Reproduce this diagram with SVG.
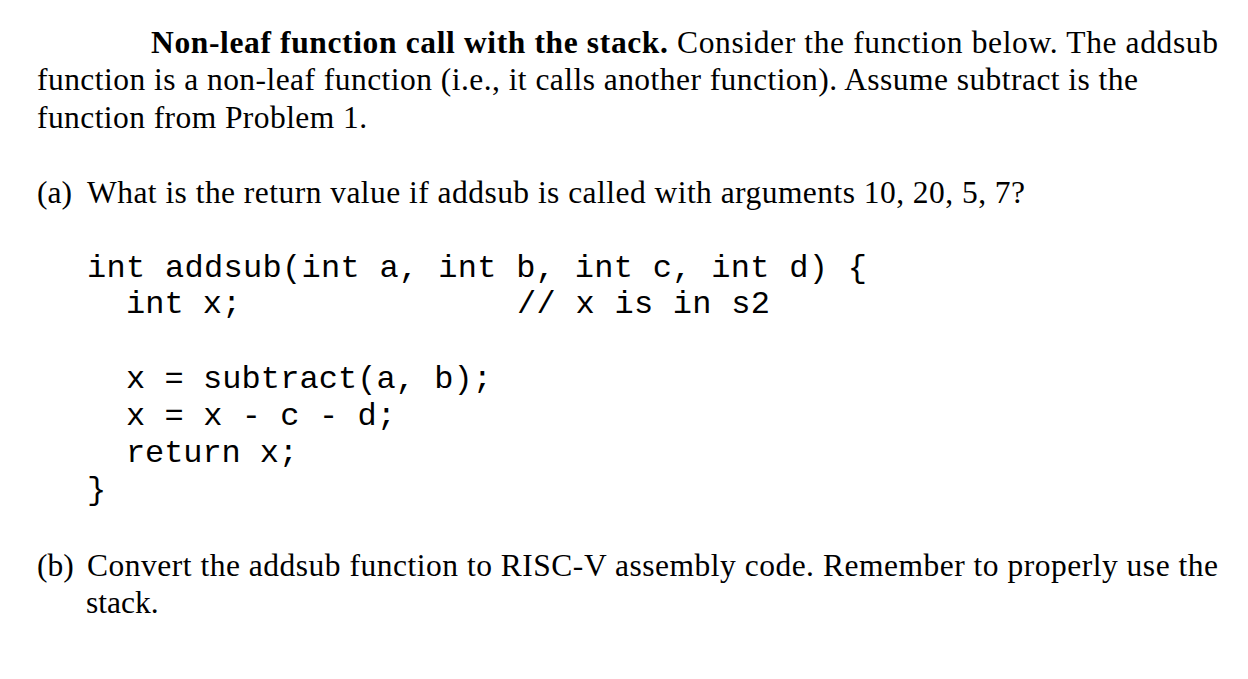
<svg xmlns="http://www.w3.org/2000/svg" width="1248" height="679" viewBox="0 0 1248 679">
<style>
.s{font-family:"Liberation Serif","Times New Roman",serif;font-size:31.5px;fill:#000}
.m{font-family:"Liberation Mono","Courier New",monospace;font-size:32px;fill:#000}
</style>
<rect width="1248" height="679" fill="#fff"/>
<g id="para">
<text class="s" x="151" y="53" textLength="1067" lengthAdjust="spacing"><tspan font-weight="bold">Non-leaf function call with the stack.</tspan>  Consider the function below. The addsub</text>
<text class="s" x="37" y="90" textLength="1101" lengthAdjust="spacing">function is a non-leaf function (i.e., it calls another function). Assume subtract is the</text>
<text class="s" x="37" y="128" textLength="330" lengthAdjust="spacing">function from Problem 1.</text>
</g>
<g id="qa">
<text class="s" x="37" y="203">(a)</text>
<text class="s" x="87" y="203" textLength="938" lengthAdjust="spacing">What is the return value if addsub is called with arguments 10, 20, 5, 7?</text>
</g>
<g id="code">
<text class="m" x="87" y="277" textLength="780" lengthAdjust="spacing">int addsub(int a, int b, int c, int d) {</text>
<text class="m" x="126" y="313">int x;</text>
<text class="m" x="517" y="313" textLength="253" lengthAdjust="spacing">// x is in s2</text>
<text class="m" x="126" y="388" textLength="366" lengthAdjust="spacing">x = subtract(a, b);</text>
<text class="m" x="126" y="425" textLength="270" lengthAdjust="spacing">x = x - c - d;</text>
<text class="m" x="126" y="462" textLength="172" lengthAdjust="spacing">return x;</text>
<text class="m" x="87" y="499">}</text>
</g>
<g id="qb">
<text class="s" x="37" y="576">(b)</text>
<text class="s" x="87" y="576" textLength="1131" lengthAdjust="spacing">Convert the addsub function to RISC-V assembly code. Remember to properly use the</text>
<text class="s" x="86" y="613">stack.</text>
</g>
</svg>
